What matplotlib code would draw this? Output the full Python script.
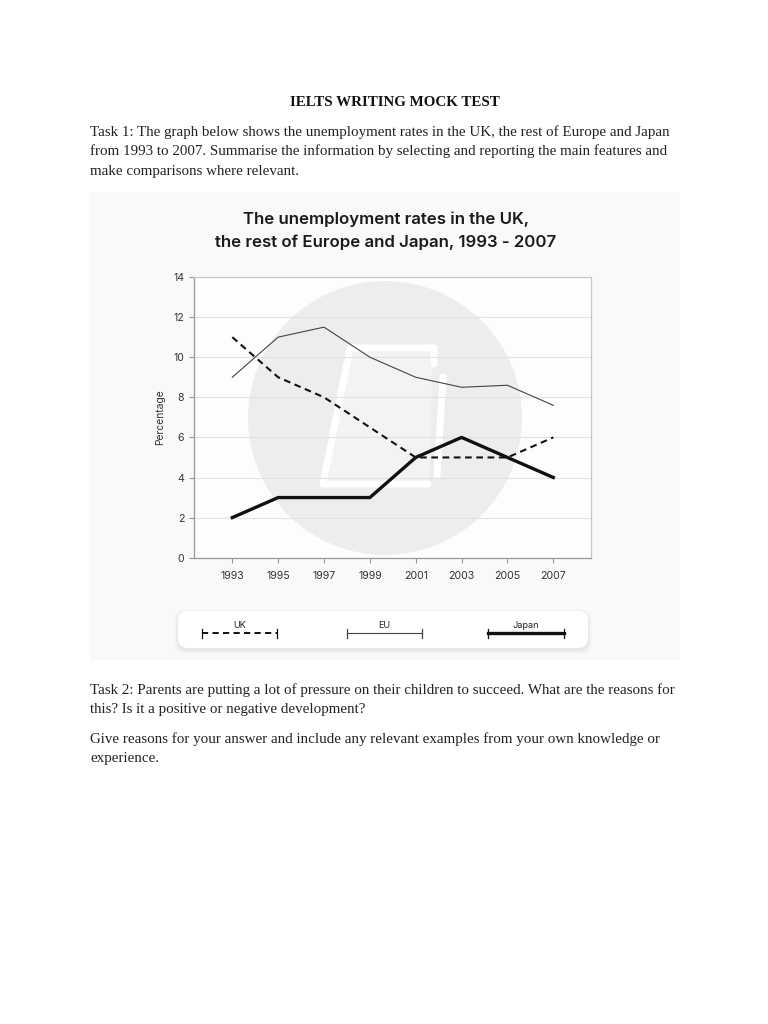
import numpy as np
import matplotlib.pyplot as plt
from matplotlib.patches import Circle, FancyBboxPatch, Rectangle

# data
years = [1993, 1995, 1997, 1999, 2001, 2003, 2005, 2007]
uk = [11, 9, 8, 6.5, 5, 5, 5, 6]
eu = [9, 11, 11.5, 10, 9, 8.5, 8.6, 7.6]
japan = [2, 3, 3, 3, 5, 6, 5, 4]
y_ticks = [0, 2, 4, 6, 8, 10, 12, 14]

chart_title = "The unemployment rates in the UK,\nthe rest of Europe and Japan, 1993 - 2007"
heading = "IELTS WRITING MOCK TEST"
task1 = ["Task 1: The graph below shows the unemployment rates in the UK, the rest of Europe and Japan",
         "from 1993 to 2007. Summarise the information by selecting and reporting the main features and",
         "make comparisons where relevant."]
task2 = ["Task 2: Parents are putting a lot of pressure on their children to succeed. What are the reasons for",
         "this? Is it a positive or negative development?"]
task2b = ["Give reasons for your answer and include any relevant examples from your own knowledge or",
          "experience."]

W, H = 768, 1024
fig = plt.figure(figsize=(W / 100, H / 100), dpi=100)
fig.patch.set_facecolor('white')

# background layer in pixel coordinates (page text + image backdrop)
bg = fig.add_axes([0, 0, 1, 1], zorder=0)
bg.set_xlim(0, W)
bg.set_ylim(H, 0)
bg.axis('off')

serif = 'Liberation Serif'
fs = 10.8
bg.text(395, 102, heading, ha='center', va='center', family=serif, weight='bold', fontsize=fs, color='#111')
for i, line in enumerate(task1):
    bg.text(90, 132 + i * 19.5, line, ha='left', va='center', family=serif, fontsize=fs, color='#222')
for i, line in enumerate(task2):
    bg.text(90, 690 + i * 19.5, line, ha='left', va='center', family=serif, fontsize=fs, color='#222')
for i, line in enumerate(task2b):
    bg.text(90, 739 + i * 19.5, line, ha='left', va='center', family=serif, fontsize=fs, color='#222')

# chart image backdrop
bg.add_patch(Rectangle((90, 192), 590, 468, facecolor='#f9f9f9', edgecolor='none'))
bg.add_patch(Rectangle((194, 277), 397, 281, facecolor='#fdfdfd', edgecolor='none'))
# watermark
bg.add_patch(Circle((385, 418), 137, facecolor='#ededed', edgecolor='none'))
bg.fill([350, 433, 429, 323], [348, 348, 484, 484], color='#f3f3f3', lw=0)
bg.plot([434, 434, 350, 323, 428], [364, 348, 348, 484, 484], color='white', lw=5,
        solid_joinstyle='round', solid_capstyle='round')
bg.plot([443, 437], [377, 476], color='white', lw=5, solid_capstyle='round')

sans = ['Inter', 'DejaVu Sans']
bg.text(386, 231, chart_title, ha='center', va='center', family=sans, weight='semibold',
        fontsize=12.1, color='#1a1a1a', linespacing=1.6)

# legend card with soft shadow
for k, a in enumerate([0.012, 0.015, 0.02, 0.025]):
    d = 4 - k
    bg.add_patch(FancyBboxPatch((178 - d, 611 - d + 2), 410 + 2 * d, 37 + 2 * d,
                                boxstyle='round,pad=0,rounding_size=12', facecolor='black',
                                alpha=a, edgecolor='none'))
bg.add_patch(FancyBboxPatch((178, 611), 410, 37, boxstyle='round,pad=0,rounding_size=10',
                            facecolor='white', edgecolor='none'))
leg = [('UK', 202, 277, dict(color='#111', lw=1.4, ls=(0, (3.2, 2.2)))),
       ('EU', 347, 422, dict(color='#444', lw=0.8)),
       ('Japan', 488, 564, dict(color='#111', lw=2.4))]
for name, x0, x1, st in leg:
    bg.plot([x0, x1], [633, 633], **st)
    bg.plot([x0, x0], [629, 638], color=st['color'], lw=0.9)
    bg.plot([x1, x1], [629, 638], color=st['color'], lw=0.9)
    bg.text((x0 + x1) / 2, 625, name, ha='center', va='center', family=sans, fontsize=6.6, color='#222')

# main chart
ax = fig.add_axes([194 / W, 1 - 557.7 / H, 396.7 / W, 280.7 / H], zorder=1)
ax.set_facecolor('none')
ax.plot(years, eu, color='#444', lw=0.8, zorder=3)
ax.plot(years, uk, color='#111', lw=1.5, ls=(0, (3.2, 2.2)), zorder=3)
ax.plot(years, japan, color='#111', lw=2.4, zorder=4, solid_joinstyle='miter')

ax.set_xlim(1991.33, 2008.63)
ax.set_ylim(0, 14)
ax.set_xticks(years)
ax.set_yticks(y_ticks)
ax.grid(axis='y', color='#e2e2e2', lw=0.8, zorder=1)
for s in ['top', 'right']:
    ax.spines[s].set_color('#c8c8c8')
    ax.spines[s].set_linewidth(0.9)
for s in ['left', 'bottom']:
    ax.spines[s].set_color('#999')
    ax.spines[s].set_linewidth(0.9)
ax.tick_params(axis='both', colors='#999', length=3.5, width=0.8, labelcolor='#333', labelsize=7.6)
ax.tick_params(axis='x', pad=6)
for lbl in ax.get_xticklabels() + ax.get_yticklabels():
    lbl.set_family(sans)
ax.set_ylabel('Percentage', family=sans, fontsize=7.4, color='#333', labelpad=6)

fig.savefig('out.png', dpi=100, facecolor='white')
